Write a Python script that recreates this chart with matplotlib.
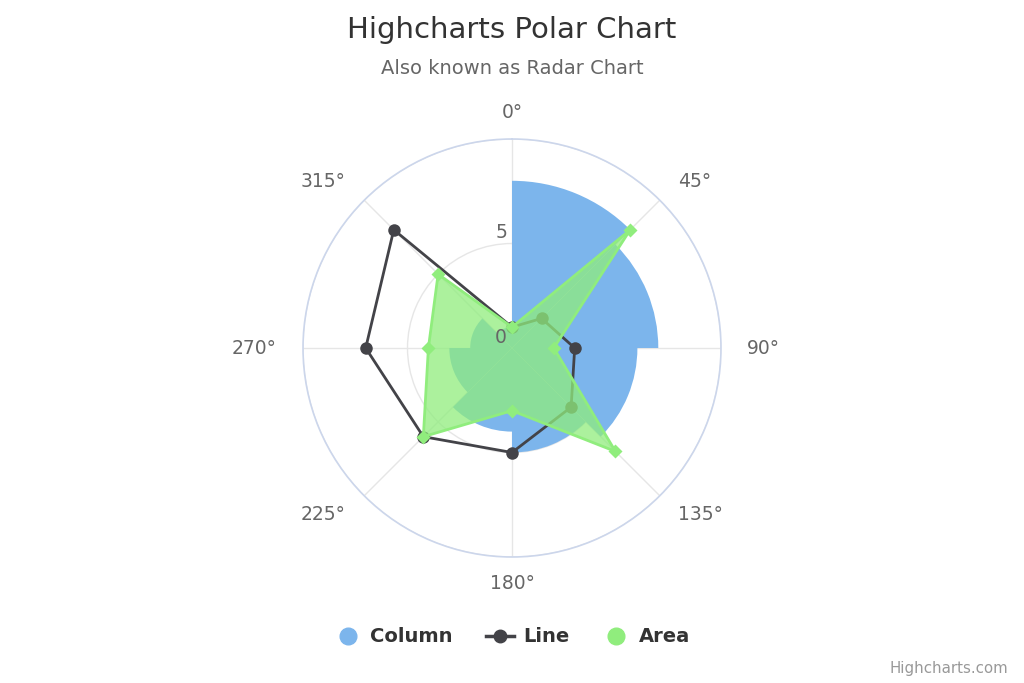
import numpy as np
import matplotlib.pyplot as plt
from matplotlib.lines import Line2D
from matplotlib.transforms import offset_copy

# data
angles_deg = [0, 45, 90, 135, 180, 225, 270, 315]
column_vals = [8, 7, 6, 5, 4, 3, 2, 1]
line_vals = [1, 2, 3, 4, 5, 6, 7, 8]
area_vals = [1, 8, 2, 7, 3, 6, 4, 5]
tick_labels = ['0°', '45°', '90°', '135°', '180°', '225°', '270°', '315°']
y_ticks = [0, 5]

col_color = '#7cb5ec'
line_color = '#434348'
area_color = '#90ed7d'

fig = plt.figure(figsize=(10.24, 6.83), dpi=100)
cx, cy, rad = 512, 348, 209
ax = fig.add_axes([(cx - rad) / 1024, (683 - cy - rad) / 683, 2 * rad / 1024, 2 * rad / 683],
                  projection='polar')
ax.set_theta_zero_location('N')
ax.set_theta_direction(-1)
ax.set_ylim(0, 10)

theta = np.deg2rad(angles_deg)
width = np.deg2rad(45)

# column series (placed between the ticks)
ax.bar(theta, column_vals, width=width, align='edge', color=col_color, edgecolor='none', zorder=2)

# line series
th_closed = np.append(theta, theta[0])
ax.plot(th_closed, line_vals + line_vals[:1], color=line_color, lw=2, zorder=3)
ax.plot(theta, line_vals, 'o', color=line_color, ms=9, zorder=3, mec='none')

# area series
ax.fill(th_closed, area_vals + area_vals[:1], color=area_color, alpha=0.75, lw=0, zorder=4)
ax.plot(th_closed, area_vals + area_vals[:1], color=area_color, lw=2, zorder=5)
ax.plot(theta, area_vals, 'D', color=area_color, ms=7, zorder=5, mec='none')

# grid / axes styling
ax.set_xticks(theta)
ax.set_xticklabels([])
ax.set_yticks([0, 5, 10])
ax.set_yticklabels([])
ax.xaxis.grid(True, color='#e6e6e6', lw=1)
ax.yaxis.grid(True, color='#e6e6e6', lw=1)
ax.spines['polar'].set_color('#ccd6eb')
ax.spines['polar'].set_linewidth(1.2)
ax.set_axisbelow(True)

# angle labels
for a, lab in zip(angles_deg, tick_labels):
    if a in (0, 180):
        ha = 'center'
    elif a < 180:
        ha = 'left'
    else:
        ha = 'right'
    ax.text(np.deg2rad(a), 11.25, lab, ha=ha, va='center', fontsize=13.5,
            color='#666666', clip_on=False)

# radial labels
ytrans = offset_copy(ax.transData, fig=fig, x=-5, y=1, units='dots')
for v in y_ticks:
    ax.text(0, v, str(v), transform=ytrans, ha='right', va='bottom', fontsize=13.5,
            color='#666666', zorder=10)

fig.text(0.5, 1 - 30 / 683, 'Highcharts Polar Chart', ha='center', va='center',
         fontsize=21, color='#333333')
fig.text(0.5, 1 - 68 / 683, 'Also known as Radar Chart', ha='center', va='center',
         fontsize=14, color='#666666')

handles = [
    Line2D([], [], marker='o', ls='none', color=col_color, ms=12),
    Line2D([], [], marker='o', ls='-', lw=2.5, color=line_color, ms=9),
    Line2D([], [], marker='o', ls='none', color=area_color, ms=12),
]
fig.legend(handles, ['Column', 'Line', 'Area'], loc='center', bbox_to_anchor=(0.5, 1 - 637 / 683),
           ncol=3, frameon=False, prop={'weight': 'bold', 'size': 14}, labelcolor='#333333',
           handlelength=1.45, columnspacing=1.7, handletextpad=0.45)

fig.text(1 - 16 / 1024, 1 - 668 / 683, 'Highcharts.com', ha='right', va='center',
         fontsize=10.8, color='#999999')

fig.savefig('out.png', dpi=100)
